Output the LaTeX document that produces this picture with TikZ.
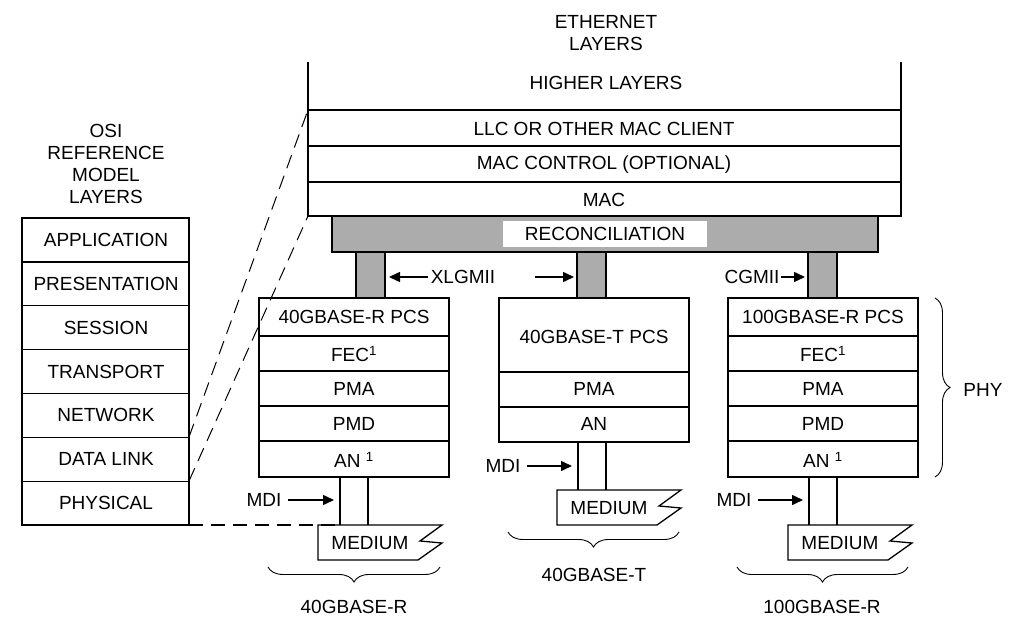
\documentclass[tikz,border=0pt]{standalone}
\usepackage{fontspec}
\setmainfont{Liberation Sans}
\usetikzlibrary{decorations.pathreplacing,arrows.meta}
\begin{document}
\begin{tikzpicture}[x=1pt,y=-1pt,line width=1.3pt,
  lbl/.style={font=\fontsize{19}{22}\selectfont,align=center,inner sep=0pt},
  bx/.style={draw,fill=white},
  hat/.style={draw,fill=gray!65},
  arr/.style={-{Triangle[length=11pt,width=10pt]},line width=1.5pt},
  br/.style={decorate,decoration={brace,amplitude=15pt},line width=0.9pt}]
\useasboundingbox (0,0) rectangle (1021,629);
% Ethernet
\node[lbl] (eth) at (606,33) {ETHERNET\\LAYERS};
\draw (308,62) -- (308,110) (901,62) -- (901,110);
\node[lbl] (hl) at (606,83) {HIGHER LAYERS};
\draw[bx] (308,110) rectangle (901,146); \node[lbl] (llc) at (604,129) {LLC OR OTHER MAC CLIENT};
\draw[bx] (308,146) rectangle (901,182); \node[lbl] (mc) at (604,165) {MAC CONTROL (OPTIONAL)};
\draw[bx] (308,182) rectangle (901,216); \node[lbl] (mac) at (604,200) {MAC};
\draw[hat] (332,216) rectangle (878,252);
\fill[white] (503,221) rectangle (707,247);
\node[lbl] (rec) at (605,234) {RECONCILIATION};
\draw[hat] (356,252) rectangle (385,298);
\draw[hat] (577,252) rectangle (606,298);
\draw[hat] (808,252) rectangle (837,298);
\node[lbl] (xl) at (463,277) {XLGMII};
\draw[arr] (428,277) -- (389,277);
\draw[arr] (535,277) -- (574,277);
\node[lbl] (cg) at (752,277) {CGMII};
\draw[arr] (781,277) -- (805,277);
% stacks
\foreach \x/\t in {259/40GBASE-R,728/100GBASE-R}{
  \draw[bx] (\x,298) rectangle ++(190,38);
  \draw[bx] (\x,336) rectangle ++(190,35);
  \draw[bx] (\x,371) rectangle ++(190,35);
  \draw[bx] (\x,406) rectangle ++(190,35);
  \draw[bx] (\x,441) rectangle ++(190,36);
  \node[lbl] at (\x+95,317) {\t\ PCS};
  \node[lbl] at (\x+95,354) {FEC\textsuperscript{1}};
  \node[lbl] at (\x+95,389) {PMA};
  \node[lbl] at (\x+95,424) {PMD};
  \node[lbl] at (\x+95,460) {AN \textsuperscript{1}};
}
\draw[bx] (499,298) rectangle (689,372); \node[lbl] (tpcs) at (594,337) {40GBASE-T PCS};
\draw[bx] (499,372) rectangle (689,407); \node[lbl] (tpma) at (594,389) {PMA};
\draw[bx] (499,407) rectangle (689,442); \node[lbl] (tan) at (594,424) {AN};
% wires and media
\draw (340,477) -- (340,525) (368,477) -- (368,525);
\draw (578,442) -- (578,490) (606,442) -- (606,490);
\draw (809,477) -- (809,525) (837,477) -- (837,525);
\foreach \x/\y in {318/525,557/490,788/525}{
  \draw[fill=white] (\x,\y) -- ++(124,0) -- ++(-22,16) -- ++(22,2) -- ++(-24,17) -- (\x,\y+35) -- cycle;
  \node[lbl] at (\x+52,\y+18) {MEDIUM};
}
\node[lbl] (m1) at (264,500) {MDI}; \draw[arr] (288,500) -- (334,500);
\node[lbl] (m2) at (503,466) {MDI}; \draw[arr] (527,466) -- (572,466);
\node[lbl] (m3) at (734,500) {MDI}; \draw[arr] (758,500) -- (803,500);
% braces
\draw[br] (440,567) -- (268,567); \node[lbl] (b1) at (354,607) {40GBASE-R};
\draw[br] (679,532) -- (508,532); \node[lbl] (b2) at (594,575) {40GBASE-T};
\draw[br] (908,567) -- (737,567); \node[lbl] (b3) at (822,607) {100GBASE-R};
\draw[br] (935,298) -- (935,477); \node[lbl] (phy) at (983,390) {PHY};
% OSI
\node[lbl] (osi) at (106,164) {OSI\\REFERENCE\\MODEL\\LAYERS};
\foreach \t [count=\i from 0] in {APPLICATION,PRESENTATION,SESSION,TRANSPORT,NETWORK,DATA LINK,PHYSICAL}{
  \draw[bx] (22,218+\i*43.86) rectangle (189,218+\i*43.86+43.86);
  \node[lbl] at (106,240+\i*43.86) {\t};
}
\draw[dash pattern=on 14pt off 8pt,line width=1pt] (189,437) -- (308,110);
\draw[dash pattern=on 14pt off 8pt,line width=1pt] (189,481) -- (308,216);
\draw[dash pattern=on 14pt off 8pt] (189,525) -- (340,525);
\end{tikzpicture}
\end{document}
